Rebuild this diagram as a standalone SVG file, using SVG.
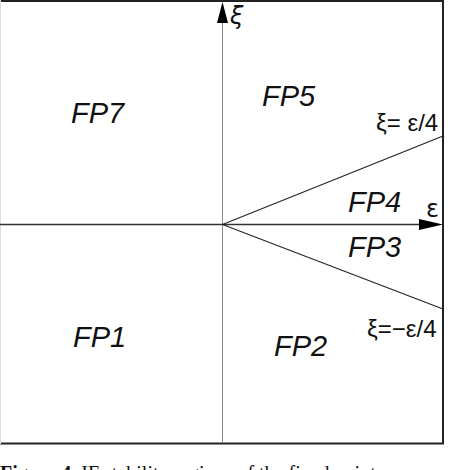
<svg xmlns="http://www.w3.org/2000/svg" width="474" height="470" viewBox="0 0 474 470">
<style>
.region{font-family:"Liberation Sans",Arial,sans-serif;font-style:italic;font-size:29px;fill:#111}
.axislbl{font-family:"DejaVu Sans","Liberation Sans",sans-serif;font-size:24px;fill:#111}
.eq{font-family:"Liberation Sans",Arial,sans-serif;font-size:24px;fill:#111}
.cap{font-family:"Liberation Serif","Times New Roman",serif;font-size:20px;fill:#111}
</style>
<rect width="474" height="470" fill="#fff"/>
<g id="frame"><path d="M0,1 H443 V443.5 H0" fill="none" stroke="#222" stroke-width="2"/><line x1="0.5" y1="0" x2="0.5" y2="444" stroke="#ddd" stroke-width="1"/></g>
<g id="connectors">
<line x1="222.5" y1="20" x2="222.5" y2="443" stroke="#8a8a8a" stroke-width="1"/>
<polygon points="222.5,2 217,23 228,23" fill="#000"/>
<line x1="0" y1="224.5" x2="422" y2="224.5" stroke="#333" stroke-width="1.3"/>
<polygon points="443,224.5 419,219 419,230" fill="#000"/>
<line x1="222.5" y1="224.5" x2="443" y2="136" stroke="#222" stroke-width="1.1"/>
<line x1="222.5" y1="224.5" x2="443" y2="309" stroke="#222" stroke-width="1.1"/>
</g>
<g id="axis-xi"><text class="axislbl" x="230" y="24" font-style="italic">ξ</text></g>
<g id="axis-eps"><text class="axislbl" x="426" y="217" font-size="21">ε</text></g>
<g id="FP7"><text class="region" x="71" y="123">FP7</text></g>
<g id="FP5"><text class="region" x="262" y="106">FP5</text></g>
<g id="FP4"><text class="region" x="348" y="212">FP4</text></g>
<g id="FP3"><text class="region" x="348" y="257">FP3</text></g>
<g id="FP1"><text class="region" x="73" y="347">FP1</text></g>
<g id="FP2"><text class="region" x="274" y="356">FP2</text></g>
<g id="eq-upper"><text class="eq" x="376" y="131">ξ= ε/4</text></g>
<g id="eq-lower"><text class="eq" x="367" y="337">ξ=−ε/4</text></g>
<g id="caption"><text class="cap" x="0" y="480"><tspan font-weight="bold">Figure 4.</tspan> IF stability regions of the fixed points</text></g>
</svg>
